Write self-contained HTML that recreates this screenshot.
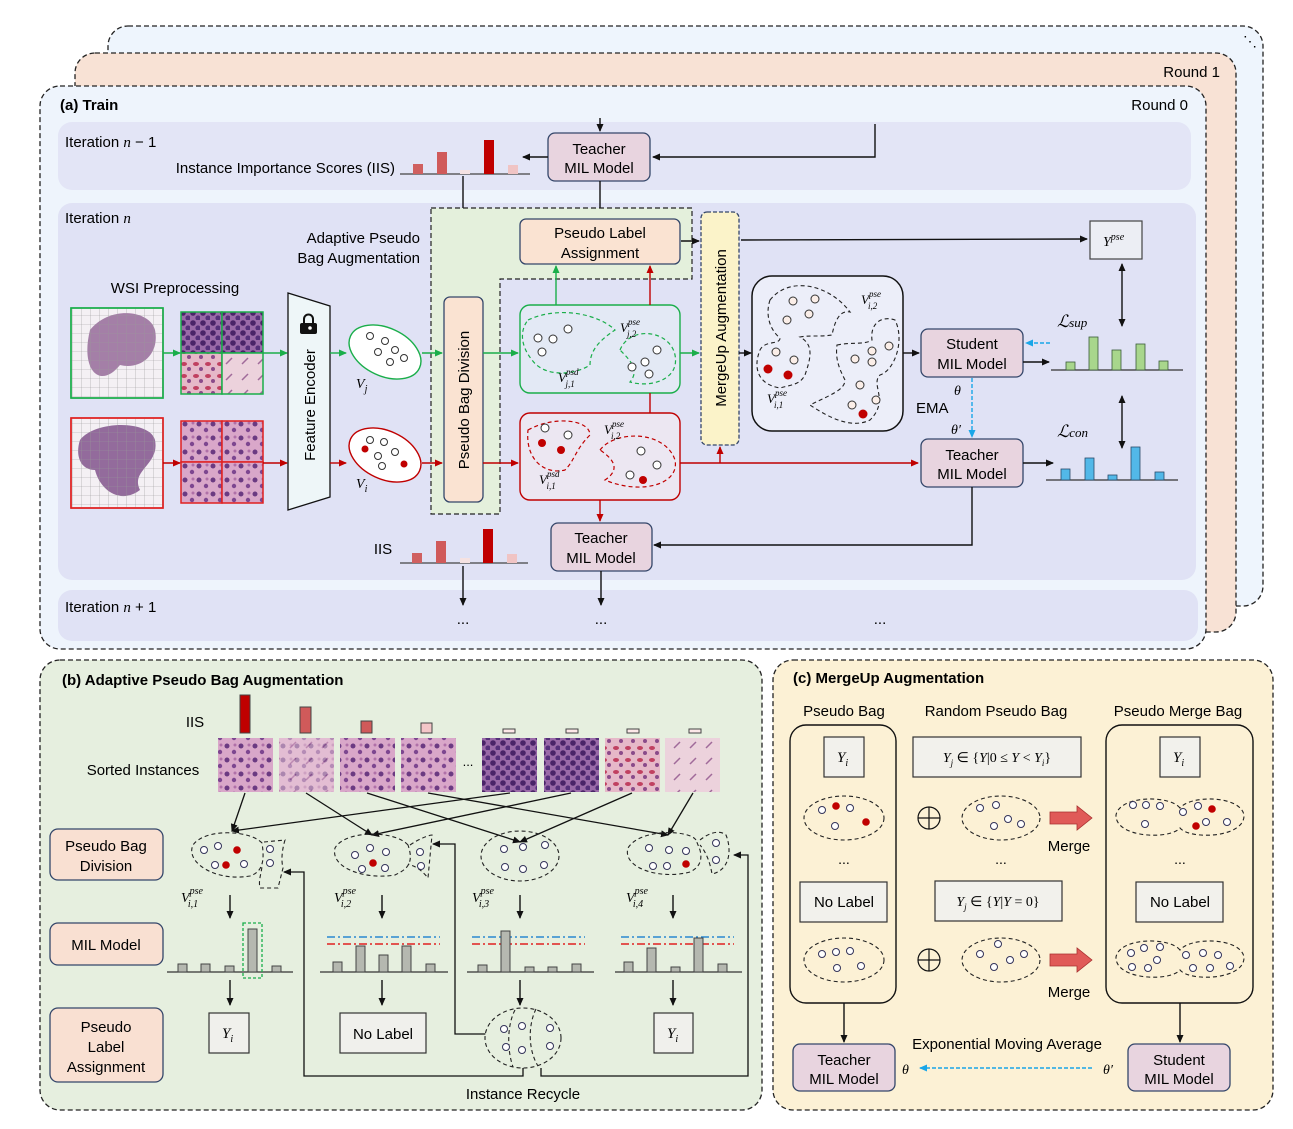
<!DOCTYPE html>
<html><head><meta charset="utf-8"><style>
body{margin:0;background:#fff}
svg{display:block;font-family:"Liberation Sans",sans-serif}
.m{font-family:"Liberation Serif",serif;font-style:italic}
</style></head><body>
<svg width="1293" height="1129" viewBox="0 0 1293 1129" xmlns="http://www.w3.org/2000/svg">
<defs>
<marker id="ak" markerWidth="8" markerHeight="8" refX="7" refY="4" orient="auto" markerUnits="userSpaceOnUse"><path d="M0,0.5 L8,4 L0,7.5z" fill="#111"/></marker>
<marker id="ag" markerWidth="8" markerHeight="8" refX="7" refY="4" orient="auto" markerUnits="userSpaceOnUse"><path d="M0,0.5 L8,4 L0,7.5z" fill="#1aae4a"/></marker>
<marker id="ar" markerWidth="8" markerHeight="8" refX="7" refY="4" orient="auto" markerUnits="userSpaceOnUse"><path d="M0,0.5 L8,4 L0,7.5z" fill="#c00000"/></marker>
<marker id="ab" markerWidth="8" markerHeight="8" refX="7" refY="4" orient="auto" markerUnits="userSpaceOnUse"><path d="M0,0.5 L8,4 L0,7.5z" fill="#19a6e8"/></marker>
<marker id="ak2" markerWidth="8" markerHeight="8" refX="1" refY="4" orient="auto" markerUnits="userSpaceOnUse"><path d="M8,0.5 L0,4 L8,7.5z" fill="#111"/></marker>
<pattern id="h1" width="14" height="14" patternUnits="userSpaceOnUse"><rect width="14" height="14" fill="#d9a7c9"/><circle cx="3" cy="4" r="2.5" fill="#6b3a82"/><circle cx="10" cy="10" r="2.2" fill="#7d4690"/><circle cx="11" cy="3" r="1.5" fill="#b070a8"/></pattern>
<pattern id="h2" width="10" height="10" patternUnits="userSpaceOnUse"><rect width="10" height="10" fill="#9a6aa8"/><circle cx="3" cy="3" r="2.8" fill="#4a2468"/><circle cx="8" cy="8" r="2.6" fill="#55307a"/></pattern>
<pattern id="h3" width="12" height="12" patternUnits="userSpaceOnUse"><rect width="12" height="12" fill="#e6b8c8"/><ellipse cx="4" cy="4" rx="3" ry="2" fill="#c04060"/><circle cx="9" cy="9" r="2" fill="#8a4a8a"/></pattern>
<pattern id="h4" width="16" height="16" patternUnits="userSpaceOnUse"><rect width="16" height="16" fill="#ecd2dc"/><path d="M2,12 L8,6" stroke="#a06a9a" stroke-width="1.5"/></pattern>
<pattern id="grid" width="9" height="9" patternUnits="userSpaceOnUse"><path d="M9,0 L0,0 0,9" fill="none" stroke="#999" stroke-width="0.6"/></pattern>
</defs>

<!-- rounds -->
<rect x="108" y="26" width="1155" height="580" rx="20" fill="#eef5fd" stroke="#222" stroke-dasharray="5,3" stroke-width="1.3"/>
<rect x="75" y="53" width="1161" height="579" rx="20" fill="#f8e2d5" stroke="#222" stroke-dasharray="5,3" stroke-width="1.3"/>
<rect x="40" y="86" width="1166" height="563" rx="20" fill="#eef4fc" stroke="#222" stroke-dasharray="5,3" stroke-width="1.3"/>
<text x="1243" y="46" font-size="14">⋱</text>
<text x="1220" y="77" font-size="15" text-anchor="end">Round 1</text>
<text x="1188" y="110" font-size="15" text-anchor="end">Round 0</text>
<text x="60" y="110" font-size="15" font-weight="bold">(a) Train</text>

<rect x="58" y="122" width="1133" height="68" rx="14" fill="#e3e5f6"/>
<rect x="58" y="203" width="1138" height="377" rx="14" fill="#e0e2f5"/>
<rect x="58" y="590" width="1140" height="51" rx="14" fill="#e0e2f5"/>
<text x="65" y="147" font-size="15">Iteration <tspan class="m">n</tspan> − 1</text>
<text x="65" y="223" font-size="15">Iteration <tspan class="m">n</tspan></text>
<text x="65" y="612" font-size="15">Iteration <tspan class="m">n</tspan> + 1</text>

<!-- IIS top -->
<text x="395" y="173" font-size="15" text-anchor="end">Instance Importance Scores (IIS)</text>
<line x1="400" y1="174" x2="530" y2="174" stroke="#444" stroke-width="1.3"/>
<rect x="413" y="164" width="10" height="10" fill="#d06060"/><rect x="437" y="152" width="10" height="22" fill="#d05a5a"/><rect x="460" y="170" width="10" height="4" fill="#f5e2e2"/><rect x="484" y="140" width="10" height="34" fill="#c00000"/><rect x="508" y="165" width="10" height="9" fill="#f0c4c4"/>
<rect x="548" y="133" width="102" height="48" rx="7" fill="#e8d4df" stroke="#34466a" stroke-width="1.3"/>
<text x="599" y="154" font-size="15" text-anchor="middle">Teacher</text><text x="599" y="173" font-size="15" text-anchor="middle">MIL Model</text>
<line x1="600" y1="118" x2="600" y2="131" stroke="#111" stroke-width="1.4" marker-end="url(#ak)"/>
<line x1="548" y1="157" x2="523" y2="157" stroke="#111" stroke-width="1.4" marker-end="url(#ak)"/>
<polyline points="875,124 875,157 653,157" fill="none" stroke="#111" stroke-width="1.4" marker-end="url(#ak)"/>
<line x1="463" y1="176" x2="463" y2="295" stroke="#111" stroke-width="1.4" marker-end="url(#ak)"/>
<line x1="600" y1="181" x2="600" y2="218" stroke="#111" stroke-width="1.4" marker-end="url(#ak)"/>

<text x="420" y="243" font-size="15" text-anchor="end">Adaptive Pseudo</text>
<text x="420" y="263" font-size="15" text-anchor="end">Bag Augmentation</text>
<polygon points="431,208 692,208 692,279 500,279 500,514 431,514" fill="#e4f0dc" stroke="#222" stroke-dasharray="5,3" stroke-width="1.2"/>
<rect x="520" y="219" width="160" height="45" rx="6" fill="#fae3d2" stroke="#34466a" stroke-width="1.3"/>
<text x="600" y="238" font-size="15" text-anchor="middle">Pseudo Label</text><text x="600" y="258" font-size="15" text-anchor="middle">Assignment</text>
<rect x="701" y="212" width="38" height="233" rx="6" fill="#fbf3c9" stroke="#34466a" stroke-dasharray="4,2" stroke-width="1.3"/>
<text transform="translate(726,328) rotate(-90)" font-size="15" text-anchor="middle">MergeUp Augmentation</text>
<line x1="681" y1="241" x2="699" y2="241" stroke="#111" stroke-width="1.4" marker-end="url(#ak)"/>
<line x1="741" y1="240" x2="1087" y2="239" stroke="#111" stroke-width="1.4" marker-end="url(#ak)"/>
<rect x="1090" y="221" width="52" height="38" fill="#eceef4" stroke="#444" stroke-width="1.2"/>
<text x="1103" y="246" font-size="14" class="m">Y<tspan font-size="10" dy="-6">pse</tspan></text>

<text x="175" y="293" font-size="15" text-anchor="middle">WSI Preprocessing</text>
<rect x="71" y="308" width="92" height="90" fill="#f4f0f4" stroke="#1aae4a" stroke-width="1.5"/>
<path d="M90,330 C110,305 150,310 155,330 C160,355 140,370 120,365 C100,390 80,370 90,330z" fill="#8a5a8e" opacity="0.75"/>
<rect x="71" y="308" width="92" height="90" fill="url(#grid)" stroke="#1aae4a" stroke-width="1.5"/>
<rect x="71" y="418" width="92" height="90" fill="#f4f0f4" stroke="#e02020" stroke-width="1.5"/>
<path d="M80,440 C95,420 150,420 155,440 C160,465 130,470 140,490 C120,505 100,490 95,470 C80,470 75,455 80,440z" fill="#7a4a86" opacity="0.8"/>
<rect x="71" y="418" width="92" height="90" fill="url(#grid)" stroke="#e02020" stroke-width="1.5"/>
<g stroke="#1aae4a" stroke-width="1.5"><rect x="181" y="312" width="41" height="41" fill="url(#h2)"/><rect x="222" y="312" width="41" height="41" fill="url(#h2)"/><rect x="181" y="353" width="41" height="41" fill="url(#h3)"/><rect x="222" y="353" width="41" height="41" fill="url(#h4)"/></g>
<g stroke="#e02020" stroke-width="1.5"><rect x="181" y="421" width="41" height="41" fill="url(#h1)"/><rect x="222" y="421" width="41" height="41" fill="url(#h1)"/><rect x="181" y="462" width="41" height="41" fill="url(#h1)"/><rect x="222" y="462" width="41" height="41" fill="url(#h1)"/></g>
<line x1="163" y1="353" x2="180" y2="353" stroke="#1aae4a" stroke-width="1.4" marker-end="url(#ag)"/>
<line x1="263" y1="353" x2="287" y2="353" stroke="#1aae4a" stroke-width="1.4" marker-end="url(#ag)"/>
<line x1="163" y1="463" x2="180" y2="463" stroke="#c00000" stroke-width="1.4" marker-end="url(#ar)"/>
<line x1="263" y1="463" x2="287" y2="463" stroke="#c00000" stroke-width="1.4" marker-end="url(#ar)"/>
<polygon points="288,293 330,306 330,497 288,510" fill="#eef6f8" stroke="#111" stroke-width="1.3"/>
<rect x="300" y="323" width="17" height="11" rx="2" fill="#111"/><path d="M304,323 v-4 a4.5,4.5 0 0 1 9,0 v4" fill="none" stroke="#111" stroke-width="2"/><circle cx="310" cy="328" r="1.8" fill="#fff"/>
<text transform="translate(315,405) rotate(-90)" font-size="15" text-anchor="middle">Feature Encoder</text>
<line x1="330" y1="353" x2="346" y2="353" stroke="#1aae4a" stroke-width="1.4" marker-end="url(#ag)"/>
<line x1="330" y1="463" x2="346" y2="463" stroke="#c00000" stroke-width="1.4" marker-end="url(#ar)"/>
<ellipse cx="385" cy="352" rx="38" ry="24" transform="rotate(25 385 352)" fill="#fff" stroke="#1aae4a" stroke-width="1.4"/>
<ellipse cx="385" cy="455" rx="38" ry="24" transform="rotate(25 385 455)" fill="#fff" stroke="#c00000" stroke-width="1.4"/>
<g fill="#fff" stroke="#333" stroke-width="1"><circle cx="370" cy="336" r="3.5"/><circle cx="385" cy="341" r="3.5"/><circle cx="378" cy="352" r="3.5"/><circle cx="395" cy="350" r="3.5"/><circle cx="390" cy="362" r="3.5"/><circle cx="404" cy="358" r="3.5"/><circle cx="370" cy="440" r="3.5"/><circle cx="384" cy="442" r="3.5"/><circle cx="378" cy="456" r="3.5"/><circle cx="395" cy="452" r="3.5"/><circle cx="382" cy="466" r="3.5"/></g>
<circle cx="365" cy="449" r="3.5" fill="#c00000"/><circle cx="404" cy="464" r="3.5" fill="#c00000"/>
<text x="356" y="388" font-size="14" class="m">V<tspan font-size="10" dy="4">j</tspan></text>
<text x="356" y="488" font-size="14" class="m">V<tspan font-size="10" dy="4">i</tspan></text>
<line x1="422" y1="353" x2="442" y2="353" stroke="#1aae4a" stroke-width="1.4" marker-end="url(#ag)"/>
<line x1="422" y1="463" x2="442" y2="463" stroke="#c00000" stroke-width="1.4" marker-end="url(#ar)"/>
<rect x="444" y="297" width="39" height="205" rx="6" fill="#fae3d2" stroke="#34466a" stroke-width="1.3"/>
<text transform="translate(469,400) rotate(-90)" font-size="15" text-anchor="middle">Pseudo Bag Division</text>
<line x1="483" y1="353" x2="518" y2="353" stroke="#1aae4a" stroke-width="1.4" marker-end="url(#ag)"/>
<line x1="483" y1="463" x2="518" y2="463" stroke="#c00000" stroke-width="1.4" marker-end="url(#ar)"/>
<rect x="520" y="305" width="160" height="88" rx="10" fill="#e3e9f5" stroke="#1aae4a" stroke-width="1.4"/>
<rect x="520" y="413" width="160" height="87" rx="10" fill="#ece7f2" stroke="#c00000" stroke-width="1.4"/>
<path d="M528,320 C560,305 600,315 615,330 C600,340 590,350 590,365 C575,375 545,378 532,360 C520,345 520,330 528,320z" fill="none" stroke="#1aae4a" stroke-dasharray="4,3" stroke-width="1.2"/>
<path d="M620,350 C630,325 670,330 675,355 C680,380 650,388 630,382 C640,370 630,360 620,350z" fill="none" stroke="#1aae4a" stroke-dasharray="4,3" stroke-width="1.2"/>
<path d="M528,430 C555,415 590,420 590,435 C575,450 575,460 565,470 C545,475 525,460 528,430z" fill="none" stroke="#c00000" stroke-dasharray="4,3" stroke-width="1.2"/>
<path d="M600,450 C615,430 665,430 675,460 C680,485 640,495 605,480 C620,470 615,460 600,450z" fill="none" stroke="#c00000" stroke-dasharray="4,3" stroke-width="1.2"/>
<g fill="#fff" stroke="#333" stroke-width="1"><circle cx="538" cy="338" r="4"/><circle cx="553" cy="339" r="4"/><circle cx="568" cy="329" r="4"/><circle cx="542" cy="352" r="4"/><circle cx="657" cy="350" r="4"/><circle cx="645" cy="362" r="4"/><circle cx="632" cy="367" r="4"/><circle cx="649" cy="374" r="4"/><circle cx="545" cy="428" r="4"/><circle cx="568" cy="435" r="4"/><circle cx="641" cy="451" r="4"/><circle cx="657" cy="465" r="4"/><circle cx="630" cy="475" r="4"/></g>
<circle cx="542" cy="443" r="4" fill="#c00000"/><circle cx="561" cy="450" r="4" fill="#c00000"/><circle cx="643" cy="480" r="4" fill="#c00000"/>
<text x="620" y="332" font-size="13" class="m">V<tspan font-size="9" dy="-7">pse</tspan><tspan font-size="9" dx="-13" dy="12">j,2</tspan></text>
<text x="558" y="382" font-size="13" class="m">V<tspan font-size="9" dy="-7">psd</tspan><tspan font-size="9" dx="-13" dy="12">j,1</tspan></text>
<text x="604" y="434" font-size="13" class="m">V<tspan font-size="9" dy="-7">pse</tspan><tspan font-size="9" dx="-13" dy="12">i,2</tspan></text>
<text x="539" y="484" font-size="13" class="m">V<tspan font-size="9" dy="-7">psd</tspan><tspan font-size="9" dx="-13" dy="12">i,1</tspan></text>
<line x1="556" y1="305" x2="556" y2="266" stroke="#1aae4a" stroke-width="1.4" marker-end="url(#ag)"/>
<line x1="650" y1="305" x2="650" y2="266" stroke="#c00000" stroke-width="1.4" marker-end="url(#ar)"/>
<line x1="650" y1="393" x2="650" y2="413" stroke="#c00000" stroke-width="1.4"/>
<line x1="600" y1="500" x2="600" y2="521" stroke="#c00000" stroke-width="1.4" marker-end="url(#ar)"/>
<line x1="680" y1="353" x2="699" y2="353" stroke="#1aae4a" stroke-width="1.4" marker-end="url(#ag)"/>
<line x1="680" y1="463" x2="918" y2="463" stroke="#c00000" stroke-width="1.4" marker-end="url(#ar)"/>
<line x1="720" y1="463" x2="720" y2="447" stroke="#c00000" stroke-width="1.4" marker-end="url(#ar)"/>
<line x1="739" y1="353" x2="751" y2="353" stroke="#111" stroke-width="1.4" marker-end="url(#ak)"/>
<rect x="752" y="276" width="151" height="155" rx="20" fill="#eceef9" stroke="#111" stroke-width="1.5"/>
<path d="M770,300 C790,275 830,285 850,312 C840,310 835,320 832,335 C820,337 810,335 800,337 C815,345 810,360 805,375 C800,385 790,385 780,388 C760,385 752,370 760,350 C765,340 780,345 780,338 C770,330 765,315 770,300z" fill="none" stroke="#222" stroke-dasharray="4,3" stroke-width="1.1"/>
<path d="M837,345 C850,342 865,345 872,340 C870,325 880,315 895,320 C905,340 895,370 880,375 C870,385 890,400 870,420 C850,430 825,415 810,405 C830,395 845,390 845,380 C840,370 835,360 837,345z" fill="none" stroke="#222" stroke-dasharray="4,3" stroke-width="1.1"/>
<g fill="#fbeee8" stroke="#333" stroke-width="1"><circle cx="793" cy="301" r="4"/><circle cx="815" cy="299" r="4"/><circle cx="809" cy="314" r="4"/><circle cx="787" cy="320" r="4"/><circle cx="776" cy="352" r="4"/><circle cx="794" cy="360" r="4"/><circle cx="855" cy="359" r="4"/><circle cx="872" cy="351" r="4"/><circle cx="889" cy="346" r="4"/><circle cx="872" cy="362" r="4"/><circle cx="860" cy="385" r="4"/><circle cx="852" cy="405" r="4"/><circle cx="876" cy="400" r="4"/></g>
<circle cx="768" cy="369" r="4.5" fill="#c00000"/><circle cx="788" cy="375" r="4.5" fill="#c00000"/><circle cx="863" cy="414" r="4.5" fill="#c00000"/>
<text x="861" y="304" font-size="13" class="m">V<tspan font-size="9" dy="-7">pse</tspan><tspan font-size="9" dx="-13" dy="12">i,2</tspan></text>
<text x="767" y="403" font-size="13" class="m">V<tspan font-size="9" dy="-7">pse</tspan><tspan font-size="9" dx="-13" dy="12">i,1</tspan></text>
<line x1="903" y1="353" x2="919" y2="353" stroke="#111" stroke-width="1.4" marker-end="url(#ak)"/>
<rect x="921" y="329" width="102" height="48" rx="7" fill="#e8d4df" stroke="#34466a" stroke-width="1.3"/>
<text x="972" y="349" font-size="15" text-anchor="middle">Student</text><text x="972" y="369" font-size="15" text-anchor="middle">MIL Model</text>
<rect x="921" y="439" width="102" height="48" rx="7" fill="#e8d4df" stroke="#34466a" stroke-width="1.3"/>
<text x="972" y="460" font-size="15" text-anchor="middle">Teacher</text><text x="972" y="479" font-size="15" text-anchor="middle">MIL Model</text>
<line x1="1050" y1="343" x2="1026" y2="343" stroke="#19a6e8" stroke-width="1.4" stroke-dasharray="4,2" marker-end="url(#ab)"/>
<line x1="972" y1="378" x2="972" y2="437" stroke="#19a6e8" stroke-width="1.4" stroke-dasharray="4,2" marker-end="url(#ab)"/>
<text x="954" y="395" font-size="14" class="m">θ</text>
<text x="916" y="413" font-size="15">EMA</text>
<text x="951" y="434" font-size="14" class="m">θ′</text>
<line x1="1023" y1="362" x2="1049" y2="362" stroke="#111" stroke-width="1.4" marker-end="url(#ak)"/>
<line x1="1023" y1="463" x2="1053" y2="463" stroke="#111" stroke-width="1.4" marker-end="url(#ak)"/>
<text x="1057" y="327" font-size="17" class="m">ℒ<tspan font-size="13">sup</tspan></text>
<text x="1057" y="437" font-size="17" class="m">ℒ<tspan font-size="13">con</tspan></text>
<line x1="1122" y1="264" x2="1122" y2="326" stroke="#111" stroke-width="1.4" marker-start="url(#ak2)" marker-end="url(#ak)"/>
<line x1="1122" y1="396" x2="1122" y2="448" stroke="#111" stroke-width="1.4" marker-start="url(#ak2)" marker-end="url(#ak)"/>
<line x1="1051" y1="370" x2="1183" y2="370" stroke="#333" stroke-width="1.2"/>
<g fill="#a8d68c" stroke="#3a5a3a" stroke-width="0.8"><rect x="1066" y="362" width="9" height="8"/><rect x="1089" y="337" width="9" height="33"/><rect x="1112" y="350" width="9" height="20"/><rect x="1136" y="344" width="9" height="26"/><rect x="1159" y="361" width="9" height="9"/></g>
<line x1="1046" y1="480" x2="1178" y2="480" stroke="#333" stroke-width="1.2"/>
<g fill="#52b8e8" stroke="#2a4a6a" stroke-width="0.8"><rect x="1061" y="469" width="9" height="11"/><rect x="1085" y="458" width="9" height="22"/><rect x="1108" y="475" width="9" height="5"/><rect x="1131" y="447" width="9" height="33"/><rect x="1155" y="472" width="9" height="8"/></g>
<polyline points="972,487 972,545 654,545" fill="none" stroke="#111" stroke-width="1.4" marker-end="url(#ak)"/>
<rect x="551" y="523" width="101" height="48" rx="7" fill="#e8d4df" stroke="#34466a" stroke-width="1.3"/>
<text x="601" y="543" font-size="15" text-anchor="middle">Teacher</text><text x="601" y="563" font-size="15" text-anchor="middle">MIL Model</text>
<text x="383" y="554" font-size="15" text-anchor="middle">IIS</text>
<line x1="400" y1="563" x2="528" y2="563" stroke="#444" stroke-width="1.3"/>
<rect x="412" y="553" width="10" height="10" fill="#d06060"/><rect x="436" y="541" width="10" height="22" fill="#d05a5a"/><rect x="460" y="558" width="10" height="5" fill="#f5e2e2"/><rect x="483" y="529" width="10" height="34" fill="#c00000"/><rect x="507" y="554" width="10" height="9" fill="#f0c4c4"/>
<line x1="463" y1="566" x2="463" y2="605" stroke="#111" stroke-width="1.4" marker-end="url(#ak)"/>
<line x1="601" y1="571" x2="601" y2="605" stroke="#111" stroke-width="1.4" marker-end="url(#ak)"/>
<text x="463" y="624" font-size="15" text-anchor="middle">...</text><text x="601" y="624" font-size="15" text-anchor="middle">...</text><text x="880" y="624" font-size="15" text-anchor="middle">...</text>

<!-- (b) -->
<rect x="40" y="660" width="722" height="450" rx="20" fill="#e6efdf" stroke="#222" stroke-dasharray="5,3" stroke-width="1.3"/>
<text x="62" y="685" font-size="15" font-weight="bold">(b) Adaptive Pseudo Bag Augmentation</text>
<text x="195" y="727" font-size="15" text-anchor="middle">IIS</text>
<g stroke="#444" stroke-width="1"><rect x="240" y="695" width="10" height="38" fill="#c00000"/><rect x="300" y="707" width="11" height="26" fill="#d05a5a"/><rect x="361" y="721" width="11" height="12" fill="#d05a5a"/><rect x="421" y="723" width="11" height="10" fill="#f4c6c8"/><rect x="503" y="729" width="12" height="4" fill="#fde8e8"/><rect x="566" y="729" width="12" height="4" fill="#fde8e8"/><rect x="627" y="729" width="12" height="4" fill="#fde8e8"/><rect x="689" y="729" width="12" height="4" fill="#fde8e8"/></g>
<text x="143" y="775" font-size="15" text-anchor="middle">Sorted Instances</text>
<rect x="218" y="738" width="55" height="54" fill="url(#h1)"/><rect x="279" y="738" width="55" height="54" fill="url(#h4)"/><rect x="279" y="738" width="55" height="54" fill="url(#h1)" opacity="0.5"/><rect x="340" y="738" width="55" height="54" fill="url(#h1)"/><rect x="401" y="738" width="55" height="54" fill="url(#h1)"/>
<text x="468" y="766" font-size="13" text-anchor="middle">...</text>
<rect x="482" y="738" width="55" height="54" fill="url(#h2)"/><rect x="544" y="738" width="55" height="54" fill="url(#h2)"/><rect x="605" y="738" width="55" height="54" fill="url(#h3)"/><rect x="665" y="738" width="55" height="54" fill="url(#h4)"/>
<g stroke="#111" stroke-width="1.3" marker-end="url(#ak)"><line x1="245" y1="793" x2="232" y2="831"/><line x1="306" y1="793" x2="372" y2="835"/><line x1="367" y1="793" x2="520" y2="842"/><line x1="428" y1="793" x2="668" y2="835"/><line x1="510" y1="793" x2="232" y2="831"/><line x1="571" y1="793" x2="372" y2="835"/><line x1="632" y1="793" x2="520" y2="842"/><line x1="693" y1="793" x2="668" y2="835"/></g>
<g fill="#f9e0d2" stroke="#34466a" stroke-width="1.3"><rect x="50" y="829" width="113" height="51" rx="8"/><rect x="50" y="923" width="113" height="42" rx="8"/><rect x="50" y="1008" width="113" height="74" rx="8"/></g>
<text x="106" y="851" font-size="15" text-anchor="middle">Pseudo Bag</text><text x="106" y="871" font-size="15" text-anchor="middle">Division</text>
<text x="106" y="950" font-size="15" text-anchor="middle">MIL Model</text>
<text x="106" y="1032" font-size="15" text-anchor="middle">Pseudo</text><text x="106" y="1052" font-size="15" text-anchor="middle">Label</text><text x="106" y="1072" font-size="15" text-anchor="middle">Assignment</text>
<g fill="none" stroke="#222" stroke-dasharray="4,3" stroke-width="1.1">
<path d="M262,843 C250,830 205,828 193,845 C185,862 215,882 250,876 C262,872 265,862 262,843z"/><path d="M264,842 L285,840 C282,850 281,860 283,868 L278,888 L260,888 C258,880 262,872 262,865"/>
<path d="M408,845 C395,830 345,830 335,848 C330,868 365,880 395,875 C405,870 415,865 408,845z"/><path d="M410,845 C420,838 430,835 432,835 L428,878 C420,868 414,866 408,864"/>
<ellipse cx="520" cy="856" rx="39" ry="25"/>
<path d="M696,840 C690,830 640,828 628,848 C622,868 660,880 690,872 C698,868 703,862 700,850z"/><path d="M700,840 C710,832 720,830 726,835 C732,850 730,870 712,874 C710,862 706,852 700,845"/>
</g>
<g fill="#fff" stroke="#34345a" stroke-width="1"><circle cx="204" cy="850" r="3.5"/><circle cx="218" cy="846" r="3.5"/><circle cx="215" cy="865" r="3.5"/><circle cx="244" cy="864" r="3.5"/><circle cx="270" cy="849" r="3.5"/><circle cx="270" cy="863" r="3.5"/>
<circle cx="355" cy="855" r="3.5"/><circle cx="370" cy="848" r="3.5"/><circle cx="386" cy="852" r="3.5"/><circle cx="362" cy="869" r="3.5"/><circle cx="385" cy="868" r="3.5"/><circle cx="420" cy="852" r="3.5"/><circle cx="421" cy="866" r="3.5"/>
<circle cx="504" cy="849" r="3.5"/><circle cx="523" cy="847" r="3.5"/><circle cx="545" cy="845" r="3.5"/><circle cx="505" cy="867" r="3.5"/><circle cx="523" cy="869" r="3.5"/><circle cx="544" cy="865" r="3.5"/>
<circle cx="649" cy="848" r="3.5"/><circle cx="669" cy="850" r="3.5"/><circle cx="686" cy="851" r="3.5"/><circle cx="653" cy="866" r="3.5"/><circle cx="667" cy="866" r="3.5"/><circle cx="716" cy="843" r="3.5"/><circle cx="716" cy="860" r="3.5"/></g>
<circle cx="237" cy="850" r="3.8" fill="#c00000"/><circle cx="226" cy="865" r="3.8" fill="#c00000"/><circle cx="373" cy="863" r="3.8" fill="#c00000"/><circle cx="686" cy="864" r="3.8" fill="#c00000"/>
<text x="181" y="902" font-size="14" class="m">V<tspan font-size="10" dy="-8">pse</tspan><tspan font-size="10" dx="-15" dy="13">i,1</tspan></text>
<text x="334" y="902" font-size="14" class="m">V<tspan font-size="10" dy="-8">pse</tspan><tspan font-size="10" dx="-15" dy="13">i,2</tspan></text>
<text x="472" y="902" font-size="14" class="m">V<tspan font-size="10" dy="-8">pse</tspan><tspan font-size="10" dx="-15" dy="13">i,3</tspan></text>
<text x="626" y="902" font-size="14" class="m">V<tspan font-size="10" dy="-8">pse</tspan><tspan font-size="10" dx="-15" dy="13">i,4</tspan></text>
<g stroke="#111" stroke-width="1.4" marker-end="url(#ak)"><line x1="230" y1="895" x2="230" y2="918"/><line x1="382" y1="895" x2="382" y2="918"/><line x1="520" y1="895" x2="520" y2="918"/><line x1="673" y1="895" x2="673" y2="918"/><line x1="230" y1="980" x2="230" y2="1005"/><line x1="382" y1="980" x2="382" y2="1005"/><line x1="520" y1="980" x2="520" y2="1005"/><line x1="673" y1="980" x2="673" y2="1005"/></g>
<g stroke="#333" stroke-width="1.3"><line x1="167" y1="972" x2="293" y2="972"/><line x1="320" y1="972" x2="448" y2="972"/><line x1="467" y1="972" x2="594" y2="972"/><line x1="615" y1="972" x2="742" y2="972"/></g>
<g stroke-width="1.6" stroke-dasharray="8,3,2,3"><line x1="327" y1="937" x2="440" y2="937" stroke="#2a88d0"/><line x1="327" y1="944" x2="440" y2="944" stroke="#e02020"/><line x1="472" y1="937" x2="585" y2="937" stroke="#2a88d0"/><line x1="472" y1="944" x2="585" y2="944" stroke="#e02020"/><line x1="621" y1="937" x2="734" y2="937" stroke="#2a88d0"/><line x1="621" y1="944" x2="734" y2="944" stroke="#e02020"/></g>
<g fill="#b5b8b0" stroke="#444" stroke-width="1"><rect x="178" y="964" width="9" height="8"/><rect x="201" y="964" width="9" height="8"/><rect x="225" y="966" width="9" height="6"/><rect x="248" y="929" width="9" height="43"/><rect x="272" y="966" width="9" height="6"/>
<rect x="333" y="962" width="9" height="10"/><rect x="356" y="946" width="9" height="26"/><rect x="379" y="955" width="9" height="17"/><rect x="402" y="946" width="9" height="26"/><rect x="426" y="964" width="9" height="8"/>
<rect x="478" y="965" width="9" height="7"/><rect x="501" y="931" width="9" height="41"/><rect x="525" y="967" width="9" height="5"/><rect x="548" y="967" width="9" height="5"/><rect x="572" y="964" width="9" height="8"/>
<rect x="624" y="962" width="9" height="10"/><rect x="647" y="948" width="9" height="24"/><rect x="671" y="967" width="9" height="5"/><rect x="694" y="938" width="9" height="34"/><rect x="718" y="964" width="9" height="8"/></g>
<rect x="243" y="923" width="19" height="55" fill="none" stroke="#1aae4a" stroke-width="1.3" stroke-dasharray="3,2"/>
<g fill="#f0f0ec" stroke="#333" stroke-width="1.2"><rect x="209" y="1013" width="40" height="40"/><rect x="340" y="1013" width="86" height="40"/><rect x="654" y="1013" width="39" height="40"/></g>
<text x="222" y="1038" font-size="15" class="m">Y<tspan font-size="10" dy="4">i</tspan></text>
<text x="383" y="1039" font-size="15" text-anchor="middle">No Label</text>
<text x="667" y="1038" font-size="15" class="m">Y<tspan font-size="10" dy="4">i</tspan></text>
<polyline points="523,1068 523,1076 304,1076 304,872 284,872" fill="none" stroke="#111" stroke-width="1.3" marker-end="url(#ak)"/>
<polyline points="486,1034 455,1034 455,844 433,844" fill="none" stroke="#111" stroke-width="1.3" marker-end="url(#ak)"/>
<polyline points="541,1068 541,1076 748,1076 748,855 734,855" fill="none" stroke="#111" stroke-width="1.3" marker-end="url(#ak)"/>
<ellipse cx="523" cy="1038" rx="38" ry="30" fill="#e6efdf" stroke="#222" stroke-dasharray="4,3" stroke-width="1.1"/>
<path d="M515,1010 C507,1025 507,1050 513,1067 M536,1009 C528,1025 528,1050 538,1066" fill="none" stroke="#222" stroke-dasharray="4,3" stroke-width="1.1"/>
<g fill="#fff" stroke="#34345a" stroke-width="1"><circle cx="504" cy="1029" r="3.5"/><circle cx="506" cy="1047" r="3.5"/><circle cx="522" cy="1026" r="3.5"/><circle cx="522" cy="1050" r="3.5"/><circle cx="550" cy="1028" r="3.5"/><circle cx="550" cy="1046" r="3.5"/></g>
<text x="523" y="1099" font-size="15" text-anchor="middle">Instance Recycle</text>

<!-- (c) -->
<rect x="773" y="660" width="500" height="450" rx="20" fill="#fcf1d5" stroke="#222" stroke-dasharray="5,3" stroke-width="1.3"/>
<text x="793" y="683" font-size="15" font-weight="bold">(c)  MergeUp Augmentation</text>
<text x="844" y="716" font-size="15" text-anchor="middle">Pseudo Bag</text>
<text x="996" y="716" font-size="15" text-anchor="middle">Random Pseudo Bag</text>
<text x="1178" y="716" font-size="15" text-anchor="middle">Pseudo Merge Bag</text>
<rect x="790" y="725" width="106" height="278" rx="16" fill="#fcf1d5" stroke="#111" stroke-width="1.4"/>
<rect x="1106" y="725" width="147" height="278" rx="16" fill="#fcf1d5" stroke="#111" stroke-width="1.4"/>
<g fill="#f2f1ec" stroke="#333" stroke-width="1.2"><rect x="824" y="737" width="40" height="40"/><rect x="1160" y="737" width="40" height="40"/><rect x="913" y="737" width="168" height="40"/><rect x="935" y="881" width="127" height="40"/><rect x="800" y="882" width="87" height="40"/><rect x="1136" y="882" width="87" height="40"/></g>
<text x="837" y="762" font-size="15" class="m">Y<tspan font-size="10" dy="4">i</tspan></text>
<text x="1173" y="762" font-size="15" class="m">Y<tspan font-size="10" dy="4">i</tspan></text>
<text x="997" y="762" font-size="14" text-anchor="middle" font-family="Liberation Serif"><tspan class="m">Y<tspan font-size="9" dy="4">j</tspan></tspan><tspan dy="-4"> ∈ {</tspan><tspan class="m">Y</tspan>|0 ≤ <tspan class="m">Y</tspan> &lt; <tspan class="m">Y<tspan font-size="9" dy="4">i</tspan></tspan><tspan dy="-4">}</tspan></text>
<text x="998" y="906" font-size="14" text-anchor="middle" font-family="Liberation Serif"><tspan class="m">Y<tspan font-size="9" dy="4">j</tspan></tspan><tspan dy="-4"> ∈ {</tspan><tspan class="m">Y</tspan>|<tspan class="m">Y</tspan> = 0}</text>
<text x="844" y="907" font-size="15" text-anchor="middle">No Label</text>
<text x="1180" y="907" font-size="15" text-anchor="middle">No Label</text>
<g fill="none" stroke="#222" stroke-dasharray="4,3" stroke-width="1.1"><ellipse cx="844" cy="818" rx="40" ry="22"/><ellipse cx="844" cy="960" rx="40" ry="22"/><ellipse cx="1001" cy="818" rx="39" ry="22"/><ellipse cx="1001" cy="960" rx="39" ry="22"/>
<path d="M1180,808 C1170,795 1120,795 1116,815 C1115,838 1170,840 1180,828 C1190,840 1245,838 1244,815 C1240,795 1190,795 1180,808z"/>
<path d="M1180,950 C1170,937 1120,937 1116,957 C1115,980 1170,982 1180,970 C1190,982 1245,980 1244,957 C1240,937 1190,937 1180,950z"/></g>
<g fill="#fff" stroke="#34345a" stroke-width="1"><circle cx="822" cy="810" r="3.5"/><circle cx="850" cy="808" r="3.5"/><circle cx="835" cy="826" r="3.5"/>
<circle cx="822" cy="954" r="3.5"/><circle cx="836" cy="952" r="3.5"/><circle cx="850" cy="951" r="3.5"/><circle cx="837" cy="968" r="3.5"/><circle cx="861" cy="966" r="3.5"/>
<circle cx="980" cy="808" r="3.5"/><circle cx="996" cy="805" r="3.5"/><circle cx="1008" cy="819" r="3.5"/><circle cx="994" cy="826" r="3.5"/><circle cx="1021" cy="824" r="3.5"/>
<circle cx="998" cy="944" r="3.5"/><circle cx="980" cy="954" r="3.5"/><circle cx="994" cy="967" r="3.5"/><circle cx="1010" cy="960" r="3.5"/><circle cx="1024" cy="954" r="3.5"/>
<circle cx="1133" cy="805" r="3.5"/><circle cx="1146" cy="805" r="3.5"/><circle cx="1160" cy="806" r="3.5"/><circle cx="1145" cy="824" r="3.5"/><circle cx="1183" cy="812" r="3.5"/><circle cx="1198" cy="806" r="3.5"/><circle cx="1206" cy="822" r="3.5"/><circle cx="1227" cy="822" r="3.5"/>
<circle cx="1131" cy="953" r="3.5"/><circle cx="1144" cy="948" r="3.5"/><circle cx="1160" cy="947" r="3.5"/><circle cx="1157" cy="960" r="3.5"/><circle cx="1132" cy="967" r="3.5"/><circle cx="1148" cy="968" r="3.5"/><circle cx="1186" cy="955" r="3.5"/><circle cx="1203" cy="953" r="3.5"/><circle cx="1218" cy="955" r="3.5"/><circle cx="1193" cy="968" r="3.5"/><circle cx="1210" cy="968" r="3.5"/><circle cx="1230" cy="966" r="3.5"/></g>
<circle cx="836" cy="806" r="3.8" fill="#c00000"/><circle cx="866" cy="822" r="3.8" fill="#c00000"/><circle cx="1212" cy="809" r="3.8" fill="#c00000"/><circle cx="1196" cy="826" r="3.8" fill="#c00000"/>
<text x="844" y="864" font-size="14" text-anchor="middle">...</text><text x="1001" y="864" font-size="14" text-anchor="middle">...</text><text x="1180" y="864" font-size="14" text-anchor="middle">...</text>
<g fill="none" stroke="#111" stroke-width="1.2"><circle cx="929" cy="818" r="11"/><path d="M918,818 h22 M929,807 v22"/><circle cx="929" cy="960" r="11"/><path d="M918,960 h22 M929,949 v22"/></g>
<g fill="#e05a58" stroke="#a83030" stroke-width="0.8"><polygon points="1050,812 1077,812 1077,806 1092,818 1077,830 1077,824 1050,824"/><polygon points="1050,954 1077,954 1077,948 1092,960 1077,972 1077,966 1050,966"/></g>
<text x="1069" y="851" font-size="15" text-anchor="middle">Merge</text>
<text x="1069" y="997" font-size="15" text-anchor="middle">Merge</text>
<line x1="844" y1="1003" x2="844" y2="1042" stroke="#111" stroke-width="1.4" marker-end="url(#ak)"/>
<line x1="1180" y1="1003" x2="1180" y2="1042" stroke="#111" stroke-width="1.4" marker-end="url(#ak)"/>
<rect x="793" y="1044" width="102" height="47" rx="7" fill="#e8d4df" stroke="#34466a" stroke-width="1.3"/>
<text x="844" y="1065" font-size="15" text-anchor="middle">Teacher</text><text x="844" y="1084" font-size="15" text-anchor="middle">MIL Model</text>
<rect x="1128" y="1044" width="102" height="47" rx="7" fill="#e8d4df" stroke="#34466a" stroke-width="1.3"/>
<text x="1179" y="1065" font-size="15" text-anchor="middle">Student</text><text x="1179" y="1084" font-size="15" text-anchor="middle">MIL Model</text>
<text x="1007" y="1049" font-size="15" text-anchor="middle">Exponential Moving Average</text>
<text x="902" y="1074" font-size="14" class="m">θ</text>
<text x="1103" y="1074" font-size="14" class="m">θ′</text>
<line x1="1092" y1="1068" x2="920" y2="1068" stroke="#19a6e8" stroke-width="1.4" stroke-dasharray="4,2" marker-end="url(#ab)"/>
</svg>
</body></html>
